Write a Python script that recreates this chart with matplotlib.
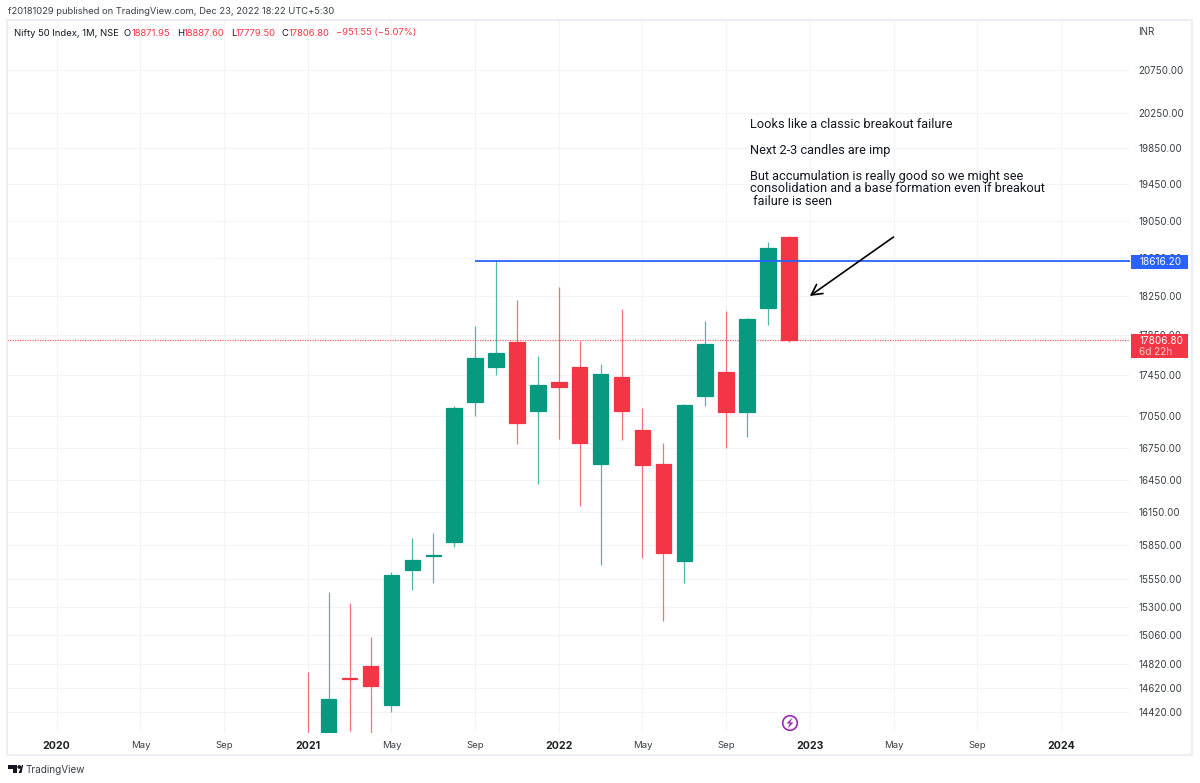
import numpy as np
import matplotlib
matplotlib.use('Agg')
import matplotlib.pyplot as plt
from matplotlib.patches import Rectangle, Polygon, Circle

# Monthly candles, Jan 2021 - Dec 2022 (month 0 = Jan 2020)
first_month = 12
opens = [14018, 13577, 14702, 14798, 14481, 15629, 15755, 15874, 17185, 17531, 17783, 17104,
         17387, 17529, 16593, 17436, 16914, 16594, 15704, 17243, 17485, 17094, 18130, 18871.95]
highs = [14753, 15431, 15336, 15044, 15606, 15915, 15962, 17153, 17947, 18616.2, 18210, 17639,
         18350, 17794, 17559, 18115, 17132, 16794, 17172, 17992, 18096, 18022, 18816, 18887.6]
lows = [13596, 13577, 14264, 14151, 14416, 15450, 15513, 15834, 17055, 17452, 16782, 16410,
        16836, 16203, 15671, 16825, 15736, 15183, 15511, 17154, 16748, 16855, 17953, 17779.5]
closes = [13634, 14529, 14690, 14631, 15582, 15721, 15763, 17132, 17618, 17671, 16983, 17354,
          17340, 16794, 17465, 17103, 16585, 15780, 17158, 17759, 17094, 18012, 18758, 17806.8]

price_ticks = [20750, 20250, 19850, 19450, 19050, 18650, 18250, 17850, 17450, 17050, 16750,
               16450, 16150, 15850, 15550, 15300, 15060, 14820, 14620, 14420]
time_ticks = list(range(0, 49, 4))
time_labels = ['2020', 'May', 'Sep', '2021', 'May', 'Sep', '2022', 'May', 'Sep', '2023', 'May', 'Sep', '2024']

resistance = 18616.20
last_price = 17806.80
resistance_start = 20

GREEN = '#089981'
RED = '#f23645'
BLUE = '#2962ff'
GRID = '#f3f4f7'
BORDER = '#e9ebf2'
TEXT = '#3a3d47'
FONT = ['Inter', 'DejaVu Sans']

plt.rcParams['font.family'] = FONT
W, H = 1200, 783


def px(x, y):
    # figure fraction from reference pixel position
    return x / W, 1 - y / H


fig = plt.figure(figsize=(W / 100, H / 100), dpi=100, facecolor='white')

# pane spans x 7-1130, y 20-733 in pixels
left, right, top, bottom = 7, 1130, 20, 733
ax = fig.add_axes([left / W, 1 - bottom / H, (right - left) / W, (bottom - top) / H])
for s in ax.spines.values():
    s.set_visible(False)

# time scale: Jan 2020 at 56.7 px, 20.92 px per month
x0, per_month = 56.7, 20.92
ax.set_xlim((left - x0) / per_month, (right - x0) / per_month)

# log price scale: 14420 at 712 px, 1765 px per ln unit
ax.set_yscale('log')
ax.set_ylim(14420 * np.exp((712 - bottom) / 1765), 14420 * np.exp((712 - top) / 1765))
ax.minorticks_off()

ax.set_yticks(price_ticks)
ax.set_yticklabels([f'{p:.2f}' for p in price_ticks], fontsize=7.0, color=TEXT)
ax.yaxis.tick_right()
ax.set_xticks(time_ticks)
ax.set_xticklabels(time_labels, fontsize=6.9, color=TEXT)
for lab, t in zip(ax.get_xticklabels(), time_labels):
    if t.isdigit():
        lab.set_fontweight('bold')
        lab.set_fontsize(7.6)
        lab.set_color('#1f2128')
ax.tick_params(axis='both', length=0)
ax.tick_params(axis='y', pad=6.0)
ax.tick_params(axis='x', pad=5.5)
ax.grid(True, color=GRID, linewidth=0.8)
ax.set_axisbelow(True)

# candles
body_w = 15.5 / per_month
for i, (o, h, l, c) in enumerate(zip(opens, highs, lows, closes)):
    m = first_month + i
    col = GREEN if c >= o else RED
    ax.vlines(m, l, h, color=col, linewidth=0.9, alpha=0.7, zorder=2)
    ax.bar(m, abs(c - o), bottom=min(o, c), width=body_w, color=col, edgecolor=col,
           linewidth=0.9, zorder=3)

ax.hlines(resistance, resistance_start, ax.get_xlim()[1], color=BLUE, linewidth=1.3, zorder=4)
ax.axhline(last_price, color='#f4606d', linewidth=0.9, linestyle=(0, (1, 1)), zorder=1.5)

# drawn arrow on the chart
ax.annotate('', xy=(36, 18253), xytext=(40, 18873),
            arrowprops=dict(arrowstyle='->,head_length=0.75,head_width=0.4', color='black', linewidth=1.2,
                            shrinkA=0, shrinkB=0), zorder=5)

note = ('Looks like a classic breakout failure\n\nNext 2-3 candles are imp\n\n'
        'But accumulation is really good so we might see\n'
        'consolidation and a base formation even if breakout\n'
        ' failure is seen')
fig.text(*px(750, 118.5), note, fontsize=9.2, color='#131722', va='top', ha='left',
         family=['Roboto', 'DejaVu Sans'], linespacing=0.98)

# outer frame
fig.add_artist(Rectangle(px(7, 755), 1185 / W, 735 / H, transform=fig.transFigure, fill=False,
                         edgecolor=BORDER, linewidth=1.2))

# price labels over the scale
fig.add_artist(Rectangle(px(1131, 269), 57 / W, 14 / H, transform=fig.transFigure, facecolor=BLUE,
                         edgecolor='none', zorder=5))
fig.text(*px(1139, 262), '18616.20', color='white', fontsize=7.2, va='center', zorder=6)
fig.add_artist(Rectangle(px(1131, 358), 57 / W, 24 / H, transform=fig.transFigure, facecolor=RED,
                         edgecolor='none', zorder=5))
fig.text(*px(1139, 341), '17806.80', color='white', fontsize=7.2, va='center', zorder=6)
fig.text(*px(1139, 352), '6d 22h', color='#fbc8cd', fontsize=7.2, va='center', zorder=6)
fig.text(*px(1138, 32), 'INR', color=TEXT, fontsize=7.0, va='center')

# header and legend
fig.text(*px(8, 12), 'f20181029 published on TradingView.com, Dec 23, 2022 18:22 UTC+5:30',
         color='#3a3d47', fontsize=6.75, va='center')
legend_parts = [(14, 'Nifty 50 Index, 1M, NSE', '#131722'), (124, 'O', '#131722'), (132, '18871.95', RED),
                (177, 'H', '#131722'), (184, '18887.60', RED), (231, 'L', '#131722'), (236, '17779.50', RED),
                (282, 'C', '#131722'), (289, '17806.80', RED), (336, '\u2212951.55 (\u22125.07%)', RED)]
for x, s, col in legend_parts:
    fig.text(*px(x, 33), s, color=col, fontsize=6.8, va='center')

# lightning badge
badge = fig.add_axes([0, 0, 1, 1], facecolor='none')
badge.set_xlim(0, W)
badge.set_ylim(H, 0)
badge.axis('off')
badge.add_patch(Circle((790, 723), 7.3, facecolor='white', edgecolor='#9c27b0', linewidth=1.2))
badge.add_patch(Polygon([(792.5, 717.5), (786.5, 723.5), (789.8, 723.5), (787.5, 728.5),
                         (793.5, 722.5), (790.2, 722.5)], closed=True, facecolor='#9c27b0', edgecolor='none'))

# TradingView logo
badge.add_patch(Polygon([(8, 765), (17, 765), (17, 773), (13, 773), (13, 769), (8, 769)], closed=True,
                        facecolor='#131722', edgecolor='none'))
badge.add_patch(Circle((19.3, 767), 1.9, facecolor='#131722', edgecolor='none'))
badge.add_patch(Polygon([(18.5, 773), (22, 765), (23.5, 765), (23.2, 765), (21.5, 773)], closed=True,
                        facecolor='#131722', edgecolor='none'))
fig.text(*px(26, 770), 'TradingView', color='#3a3d47', fontsize=7.2, va='center')

fig.savefig('out.png', dpi=100)
